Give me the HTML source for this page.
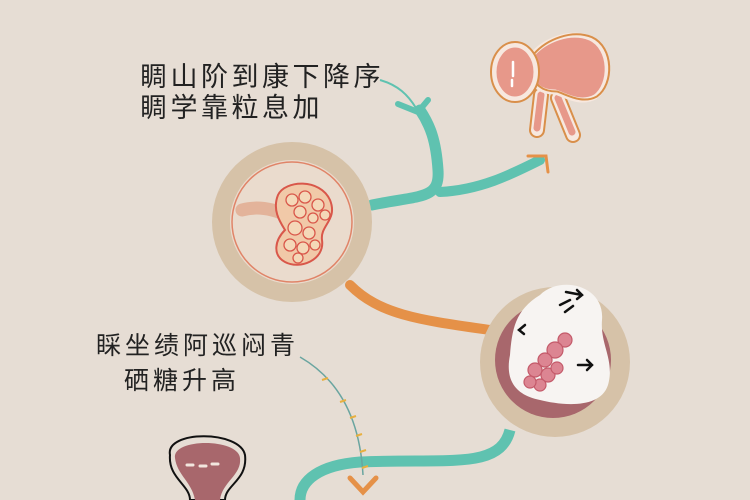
<!DOCTYPE html>
<html><head><meta charset="utf-8"><style>
html,body{margin:0;padding:0;background:#e6ddd4;}
svg{display:block}
text{font-family:"Liberation Sans","Noto Sans CJK SC",sans-serif;fill:#222;}
</style></head><body>
<svg width="750" height="500" viewBox="0 0 750 500" xmlns="http://www.w3.org/2000/svg">
<rect width="750" height="500" fill="#e6ddd4"/>
<text x="140" y="86" font-size="27" letter-spacing="3.5">睭山阶到康下降序</text>
<text x="140" y="117" font-size="27" letter-spacing="3.5">睭学靠粒息加</text>
<text x="96" y="354" font-size="25" letter-spacing="4">睬坐绩阿巡闷青</text>
<text x="124" y="389" font-size="25" letter-spacing="4">硒糖升高</text>
<path d="M380 80 C398 85 408 95 416 108" stroke="#5fc2b0" stroke-width="2" fill="none"/>
<path d="M398 104 L418 112 L428 100" stroke="#5fc2b0" stroke-width="6" fill="none" stroke-linecap="round"/>
<path d="M372 205 C420 195 440 200 438 170 C436 140 430 125 420 110" stroke="#5fc2b0" stroke-width="11" fill="none" stroke-linecap="round"/>
<path d="M440 192 C480 190 510 175 540 160" stroke="#5fc2b0" stroke-width="10" fill="none" stroke-linecap="round"/>
<path d="M528 156 L546 156 L548 172" stroke="#e59148" stroke-width="3" fill="none" stroke-linecap="round"/>
<path d="M350 285 C380 315 420 320 490 330" stroke="#e59148" stroke-width="10" fill="none" stroke-linecap="round"/>
<circle cx="292" cy="222" r="80" fill="#d6c2a8"/>
<circle cx="292" cy="222" r="62" fill="#eadbcd"/>
<circle cx="292" cy="222" r="60" fill="none" stroke="#e08468" stroke-width="1.5"/>
<path d="M242 210 C260 205 285 210 300 225" stroke="#e3b39a" stroke-width="13" fill="none" stroke-linecap="round"/>
<path d="M278 195 C285 180 320 178 330 200 C338 220 320 225 322 240 C325 260 300 270 285 262 C272 255 275 240 285 230 C280 222 272 210 278 195Z" fill="#f1c9a8" stroke="#d9574a" stroke-width="2"/>
<g fill="#f4d8b8" stroke="#d9574a" stroke-width="1.3">
<circle cx="292" cy="200" r="6"/><circle cx="305" cy="197" r="6"/><circle cx="318" cy="205" r="6"/><circle cx="300" cy="212" r="6"/><circle cx="313" cy="218" r="5"/><circle cx="325" cy="215" r="5"/><circle cx="295" cy="228" r="7"/><circle cx="309" cy="233" r="6"/><circle cx="290" cy="245" r="6"/><circle cx="303" cy="248" r="6"/><circle cx="315" cy="245" r="5"/><circle cx="298" cy="258" r="5"/>
</g>
<circle cx="555" cy="362" r="75" fill="#d6c2a8"/>
<circle cx="553" cy="360" r="58" fill="#a8676c"/>
<path d="M540 295 C560 275 605 285 602 320 C600 345 615 360 608 385 C600 410 560 405 540 400 C515 395 505 380 510 355 C512 330 515 310 540 295Z" fill="#f7f4f2"/>
<g fill="#dc8592" stroke="#c45a6a" stroke-width="1.2">
<circle cx="565" cy="340" r="7"/><circle cx="555" cy="350" r="8"/><circle cx="545" cy="360" r="7"/><circle cx="535" cy="370" r="7"/><circle cx="548" cy="375" r="7"/><circle cx="540" cy="385" r="6"/><circle cx="557" cy="368" r="6"/><circle cx="530" cy="382" r="6"/>
</g>
<g stroke="#111" stroke-width="2.5" fill="none" stroke-linecap="round">
<path d="M566 292 L582 295 M577 290 L582 295 L577 299"/><path d="M560 305 L570 300 M565 312 L573 306"/><path d="M525 325 L519 330 L524 334"/><path d="M578 365 L592 365 M587 360 L592 365 L587 370"/>
</g>
<path d="M510 430 C500 470 450 458 360 462 C320 465 300 480 300 500" stroke="#5fc2b0" stroke-width="11" fill="none"/>
<path d="M300 357 C340 380 360 420 363 475" stroke="#6aa5a0" stroke-width="1.5" fill="none"/>
<g stroke="#e8b040" stroke-width="2">
<path d="M340 402 l6 -2 M350 418 l6 -2 M356 436 l6 -2 M360 452 l6 -2 M362 468 l6 -2 M322 380 l6 -2"/>
</g>
<path d="M350 478 L363 492 L376 478" stroke="#e59148" stroke-width="5" fill="none" stroke-linecap="round"/>
<path d="M170 455 C165 430 240 430 245 455 C248 480 225 485 225 500 L190 500 C190 485 168 478 170 455Z" fill="#e6ddd4" stroke="#111" stroke-width="2"/>
<path d="M175 458 C172 438 238 438 240 458 C242 475 222 482 220 500 L195 500 C192 482 177 475 175 458Z" fill="#a8676c"/>
<path d="M187 465 h6 M200 466 h6 M212 464 h6" stroke="#f2e6de" stroke-width="3" stroke-linecap="round"/>
<!-- stomach -->
<g>
<path d="M541 95 L537 130 M558 98 L573 135" stroke="#d98f4a" stroke-width="16" stroke-linecap="round" fill="none"/>
<path d="M541 95 L537 130 M558 98 L573 135" stroke="#f7e8df" stroke-width="12" stroke-linecap="round" fill="none"/>
<path d="M541 95 L537 128 M558 98 L572 132" stroke="#e7988a" stroke-width="7" stroke-linecap="round" fill="none"/>
<path d="M532 55 C545 40 570 30 590 38 C612 48 612 85 595 97 C580 105 565 95 555 92 C540 92 532 85 530 72Z" fill="#e7988a" stroke="#f7e8df" stroke-width="5"/>
<path d="M532 55 C545 40 570 30 590 38 C612 48 612 85 595 97 C580 105 565 95 555 92 C540 92 532 85 530 72Z" fill="none" stroke="#d98f4a" stroke-width="2" transform="translate(-1,-1) scale(1.005)"/>
<ellipse cx="515" cy="72" rx="21" ry="27" fill="#e7988a" stroke="#f7e8df" stroke-width="5"/>
<ellipse cx="515" cy="72" rx="24" ry="30" fill="none" stroke="#d98f4a" stroke-width="2"/>
<path d="M513 62 v14 M512 80 v6" stroke="#fff" stroke-width="2.5" stroke-linecap="round"/>
</g>
</svg>
</body></html>
